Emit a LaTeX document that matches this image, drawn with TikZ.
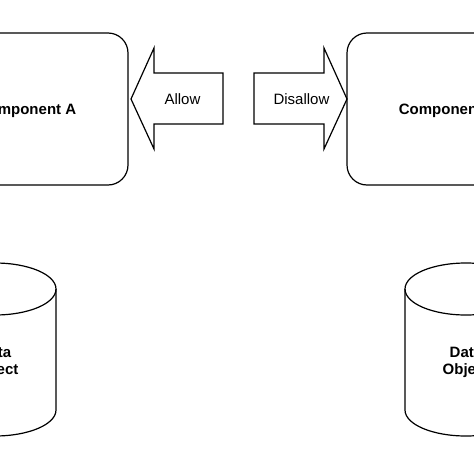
\documentclass[tikz,border=0pt]{standalone}
\usepackage{fontspec}
\setmainfont{Liberation Sans}
\usetikzlibrary{positioning}
\tikzset{
    component/.style={draw=black, rounded corners=20pt, minimum width=202pt, minimum height=152pt},
    blockarrow/.style={draw=black, line join=miter},
    datastore/.style={draw=black},
    plaintext/.style={font=\fontsize{15}{17}\selectfont, anchor=base, inner sep=0pt},
    boldtext/.style={font=\fontsize{15}{17}\selectfont\bfseries, anchor=base, align=center, inner sep=0pt},
}
\begin{document}
\begin{tikzpicture}[x=1pt, y=-1pt, line width=1.2pt]
		\useasboundingbox (0,0) rectangle (474,474);
		\clip (0,0) rectangle (474,474);
		% components
		\node[component] (compA) at (27,109) {};
		\node[component] (compB) at (448,109) {};
		\node[boldtext] (compAtext) at (27,114) {Component A};
		\node[boldtext] (compBtext) at (448,114) {Component B};
		% allow / disallow
		\draw[blockarrow] (131,99) -- (154,48) -- (154,73) -- (223,73) -- (223,124) -- (154,124) -- (154,149) -- cycle;
		\node[plaintext] (allow) at (182.5,104) {Allow};
		\draw[blockarrow] (347,99) -- (324,48) -- (324,73) -- (254,73) -- (254,124) -- (324,124) -- (324,149) -- cycle;
		\node[plaintext] (disallow) at (301.5,104) {Disallow};
		% data objects
		\draw[datastore] (-66,289) -- (-66,410) arc[start angle=180, end angle=360, x radius=61pt, y radius=26pt] -- (56,289);
		\draw[datastore] (-5,289) ellipse [x radius=61pt, y radius=26pt];
		\node[boldtext] (dataA) at (-5,374) {Data\\Object};
		\draw[datastore] (405,289) -- (405,410) arc[start angle=180, end angle=360, x radius=61pt, y radius=26pt] -- (527,289);
		\draw[datastore] (466,289) ellipse [x radius=61pt, y radius=26pt];
		\node[boldtext] (dataB) at (466,374) {Data\\Object};
\end{tikzpicture}
\end{document}
